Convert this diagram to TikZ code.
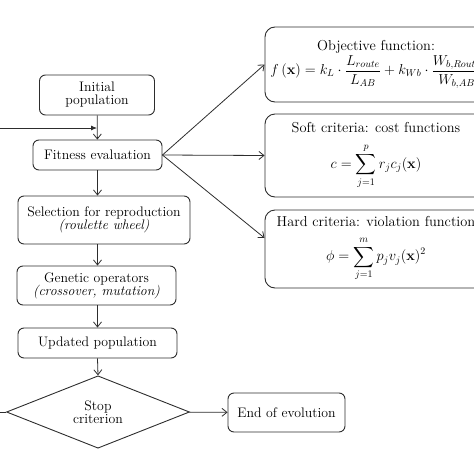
\documentclass[tikz,border=0pt]{standalone}
\usepackage{amsmath,amssymb}
\usepackage{tikz}
\usetikzlibrary{arrows.meta}
\usetikzlibrary{shapes.geometric}
\definecolor{ColLine}{RGB}{45,45,45}
\tikzstyle{StepBox}=[rectangle,rounded corners=6pt,draw=ColLine,line width=0.9pt,align=center,
inner sep=2pt,font=\fontsize{13.8}{16}\selectfont]
\tikzstyle{CritBox}=[StepBox,rounded corners=10pt,minimum width=222pt,font=\fontsize{14.4}{17}\selectfont]
\tikzstyle{Decision}=[diamond,draw=ColLine,line width=0.9pt,align=center,inner sep=0pt,
minimum width=183pt,minimum height=69pt,font=\fontsize{13.8}{16}\selectfont]
\tikzstyle{Flow}=[ColLine,line width=0.8pt,-{Straight Barb[length=5pt,width=8pt]}]
\tikzstyle{Back}=[ColLine,line width=0.8pt,-{Latex[length=6pt,width=5pt]}]

\begin{document}
\begin{tikzpicture}[x=1pt,y=-1pt]
        \useasboundingbox (0,0) rectangle (474,474);
        \clip (0,0) rectangle (474,474);
        \node[StepBox,minimum width=115pt,minimum height=40pt](init)at(97,95){Initial\\[-3pt]population};
        \node[StepBox,minimum width=129pt,minimum height=30pt](fit)at(97.5,155){Fitness evaluation};
        \node[StepBox,minimum width=172pt,minimum height=48pt](sel)at(104,220){Selection for reproduction\\[-3pt]\textit{(roulette wheel)}};
        \node[StepBox,minimum width=159pt,minimum height=39pt](gen)at(96.5,285.5){Genetic operators\\[-3pt]\textit{(crossover, mutation)}};
        \node[StepBox,minimum width=159pt,minimum height=30pt](upd)at(97.5,343){Updated population};
        \node[Decision](stop)at(98,412){Stop\\[-3pt]criterion};
        \node[StepBox,minimum width=117pt,minimum height=39pt](finish)at(286.5,412.5){End of evolution};
        \node[CritBox,minimum height=75pt](obj)at(376,64.5){Objective function:\\[1pt]
            $f\,(\mathbf{x})=k_L\cdot\dfrac{L_{route}}{L_{AB}}+k_{Wb}\cdot\dfrac{W_{b,Route}}{W_{b,AB}}$};
        \node[CritBox,minimum height=83pt](soft)at(376,155.5){Soft criteria: cost functions\\[10pt]
            $\displaystyle c=\sum_{j=1}^{p}r_jc_j(\mathbf{x})$};
        \node[CritBox,minimum height=78pt](hard)at(376,249){Hard criteria: violation function\\[9pt]
            $\displaystyle \phi=\sum_{j=1}^{m}p_jv_j(\mathbf{x})^2$};
        \coordinate(loop)at(-20,412);
        \coordinate(join)at(97,128);
        \draw[Flow](init)--(fit);
        \draw[Flow](fit.south)--(fit.south|-sel.north);
        \draw[Flow](fit.south|-sel.south)--(fit.south|-gen.north);
        \draw[Flow](fit.south|-gen.south)--(fit.south|-upd.north);
        \draw[Flow](upd.south)--(stop.north);
        \draw[Flow](stop)--(finish);
        \draw[Back](stop.west)--(loop)|-(join);
        \draw[Flow](fit.east)--(obj.west);
        \draw[Flow](fit.east)--(soft.west);
        \draw[Flow](fit.east)--([yshift=11pt]hard.west);
    \end{tikzpicture}
\end{document}
